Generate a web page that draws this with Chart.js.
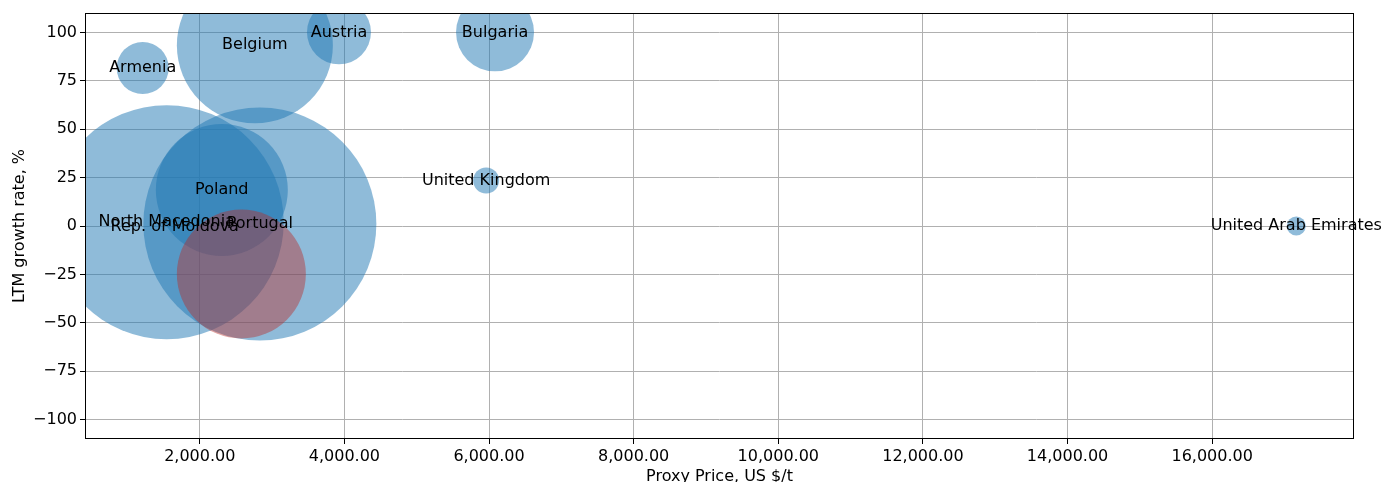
<!DOCTYPE html>
<html>
<head>
<meta charset="utf-8">
<script src="https://cdn.jsdelivr.net/npm/chart.js@4/dist/chart.umd.min.js"></script>
<style>
  html, body { margin: 0; padding: 0; background: #fff; overflow: hidden; }
  #wrap { position: relative; width: 1386px; height: 482px; }
</style>
</head>
<body>
<div id="wrap"><canvas id="chart"></canvas></div>
<script>
// ---- data ----
const countries = ["Armenia", "Belgium", "Austria", "Bulgaria", "United Kingdom",
    "United Arab Emirates", "Poland", "North Macedonia", "Rep. of Moldova", "Portugal"];
const proxyPrice = [1211, 2762, 3925, 6083, 5960, 17163, 2305, 1543, 1654, 2831];
const growthRate = [81.6, 93.3, 100, 100, 23.5, 0, 18.6, 2, -0.5, 1];
const bubbleSize = [26, 78, 32, 39, 13, 9.5, 66, 117, 1, 116.5];

// highlighted (red) bubble, no label
const highlightPrice = [2575];
const highlightGrowth = [-24.8];
const highlightSize = [64.5];

const xTicks = [2000, 4000, 6000, 8000, 10000, 12000, 14000, 16000];
const yTicks = [-100, -75, -50, -25, 0, 25, 50, 75, 100];

const FONT = "'DejaVu Sans', sans-serif";

// labels at the bubble centres + frame
const labelPlugin = {
    id: "labels",
    afterDraw(chart) {
        const ctx = chart.ctx;
        const xs = chart.scales.x, ys = chart.scales.y;
        const a = chart.chartArea;
        ctx.save();
        ctx.strokeStyle = "#000";
        ctx.lineWidth = 1;
        ctx.strokeRect(a.left + 0.5, a.top + 0.5, a.right - a.left - 1, a.bottom - a.top - 1);
        ctx.fillStyle = "#000";
        ctx.font = "16px " + FONT;
        ctx.textAlign = "center";
        ctx.textBaseline = "middle";
        countries.forEach((name, i) => {
            ctx.fillText(name, xs.getPixelForValue(proxyPrice[i]), ys.getPixelForValue(growthRate[i]));
        });
        ctx.restore();
    }
};

new Chart(document.getElementById("chart"), {
    type: "bubble",
    data: {
        datasets: [{
            data: countries.map((c, i) => ({ x: proxyPrice[i], y: growthRate[i], r: bubbleSize[i] })),
            backgroundColor: "rgba(31,119,180,0.5)",
            borderWidth: 0,
            hoverRadius: 0,
            clip: 0,
            order: 2
        }, {
            // red one sits on top of the blue ones
            data: highlightPrice.map((p, i) => ({ x: p, y: highlightGrowth[i], r: highlightSize[i] })),
            backgroundColor: "rgba(185,40,35,0.42)",
            borderWidth: 0,
            hoverRadius: 0,
            clip: 0,
            order: 1
        }]
    },
    options: {
        responsive: true,
        maintainAspectRatio: false,
        devicePixelRatio: 1,
        animation: false,
        events: [],
        layout: { autoPadding: false, padding: { top: 13, right: 32, left: 0, bottom: 0 } },
        plugins: { legend: { display: false }, tooltip: { enabled: false } },
        scales: {
            x: {
                type: "linear",
                min: 413,
                max: 17961,
                z: 1,
                afterBuildTicks: s => { s.ticks = xTicks.map(v => ({ value: v })); },
                afterFit: s => { s.height = 43; },
                ticks: {
                    color: "#000",
                    font: { family: FONT, size: 16 },
                    padding: 3,
                    maxRotation: 0,
                    callback: v => Number(v).toLocaleString("en-US", { minimumFractionDigits: 2, maximumFractionDigits: 2 })
                },
                grid: { color: "#b0b0b0", lineWidth: 1, tickColor: "#000", tickLength: 5 },
                border: { display: false },
                title: {
                    display: true,
                    text: "Proxy Price, US $/t",
                    color: "#000",
                    font: { family: FONT, size: 16 },
                    padding: { top: 0, bottom: -4 }
                }
            },
            y: {
                min: -110,
                max: 110,
                z: 1,
                afterBuildTicks: s => { s.ticks = yTicks.map(v => ({ value: v })); },
                afterFit: s => { s.width = 85; },
                ticks: {
                    color: "#000",
                    font: { family: FONT, size: 16 },
                    padding: 3,
                    callback: v => (v < 0 ? "\u2212" + Math.abs(v) : String(v))
                },
                grid: { color: "#b0b0b0", lineWidth: 1, tickColor: "#000", tickLength: 5 },
                border: { display: false },
                title: {
                    display: true,
                    text: "LTM growth rate, %",
                    color: "#000",
                    font: { family: FONT, size: 16 },
                    padding: { top: 10, bottom: 0 }
                }
            }
        }
    },
    plugins: [labelPlugin]
});
</script>
</body>
</html>
